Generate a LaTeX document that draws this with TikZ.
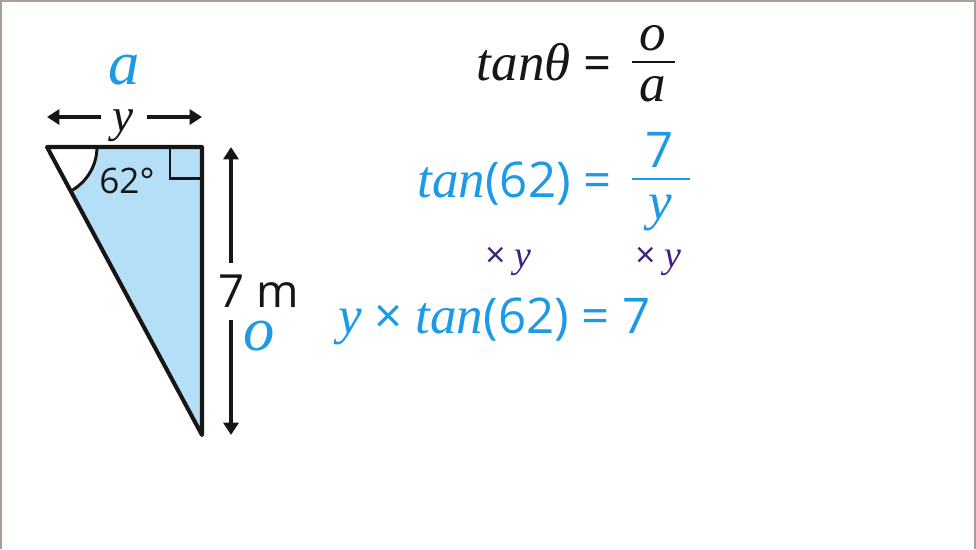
\documentclass[tikz,border=0pt]{standalone}
\usepackage{fontspec}
\usetikzlibrary{arrows.meta}
\setmainfont{Open Sans}
\newfontfamily\varfont{Liberation Serif}[Scale=1.08]
\newcommand{\vr}[1]{{\varfont\itshape #1}}

\definecolor{eqblue}{HTML}{1C9AE6}
\definecolor{trifill}{HTML}{B5DEF7}
\definecolor{mulpurple}{HTML}{3E2180}
\definecolor{framegrey}{HTML}{A8A098}
\definecolor{ink}{HTML}{161616}

\tikzset{
 side/.style={line width=2.3pt, line join=round, ink},
 dimarrow/.style={line width=1.8pt, ink, -{Triangle[length=7pt,width=8.5pt]}},
 eqtext/.style={inner sep=0pt, font=\fontsize{28}{33}\selectfont},
 multext/.style={inner sep=0pt, mulpurple, font=\fontsize{20}{24}\selectfont},
 sidename/.style={inner sep=0pt, eqblue, font=\fontsize{33}{39}\selectfont},
}

\begin{document}
\begin{tikzpicture}[x=0.02cm,y=-0.02cm]
 \useasboundingbox (0,0) rectangle (976,549);
 \draw[framegrey, line width=1.2pt] (1,549) -- (1,1) -- (975,1) -- (975,549); %枠

 \coordinate (A) at (47,147); %角の頂点
 \coordinate (R) at (202,147); %直角
 \coordinate (B) at (202,435); %下の頂点
 \fill[trifill] (A) -- (R) -- (B) -- cycle;
 \fill[white] (A) -- (97,147) arc (0:62:50) -- cycle; %角の内側
 \draw[line width=1.7pt, ink] (170,147) -- (170,178) -- (202,178); %直角の印
 \draw[line width=1.7pt, ink] (97,147) arc (0:62:50); %角の弧
 \draw[side] (A) -- (R) -- (B) -- cycle;
 \node[inner sep=0pt, ink, font=\fontsize{20}{24}\selectfont, anchor=base] (ang) at (127,193) {62°};

 %横の矢印
 \coordinate (aL) at (47,117);
 \coordinate (aR) at (202,117);
 \node[inner sep=0pt, ink, font=\fontsize{25}{29}\selectfont, anchor=base] (ylab) at (123,131) {\vr{y}};
 \draw[dimarrow] (101,117) -- (aL);
 \draw[dimarrow] (147,117) -- (aR);
 \node[sidename, anchor=base] (alab) at (124,84) {\vr{a}};

 %縦の矢印
 \coordinate (hT) at (231,147);
 \coordinate (hB) at (231,435);
 \coordinate (hU) at (231,263);
 \coordinate (hD) at (231,320);
 \draw[dimarrow] (hU) -- (hT);
 \draw[dimarrow] (hD) -- (hB);
 \node[inner sep=0pt, ink, font=\fontsize{26}{30}\selectfont, anchor=base] (len) at (259,307) {7 m};
 \node[sidename, anchor=base] (olab) at (259,350) {\vr{o}};

 %tan = o/a
 \node[eqtext, ink, anchor=base east] (eqA) at (612,80) {\vr{tanθ} =};
 \node[eqtext, ink, anchor=base] (numA) at (653,50) {\vr{o}};
 \node[eqtext, ink, anchor=base] (denA) at (653,101) {\vr{a}};
 \coordinate (barAL) at (632,62);
 \coordinate (barAR) at (675,62);
 \draw[line width=1.3pt, ink] (barAL) -- (barAR);

 %tan(62) = 7/y
 \node[eqtext, eqblue, anchor=base east] (eqB) at (612,197) {\vr{tan}(62) =};
 \node[eqtext, eqblue, anchor=base] (numB) at (660,167) {7};
 \node[eqtext, eqblue, anchor=base] (denB) at (660,219) {\vr{y}};
 \coordinate (barBL) at (632,179);
 \coordinate (barBR) at (690,179);
 \draw[line width=1.3pt, eqblue] (barBL) -- (barBR);

 %両辺に y を掛ける
 \node[multext, anchor=base west] (mulL) at (485,267) {× \vr{y}};
 \node[multext, anchor=base west] (mulR) at (635,267) {× \vr{y}};

 %y × tan(62) = 7
 \node[eqtext, eqblue, anchor=base west] (eqC) at (338,333) {\vr{y} × \vr{tan}(62) = 7};
\end{tikzpicture}
\end{document}
